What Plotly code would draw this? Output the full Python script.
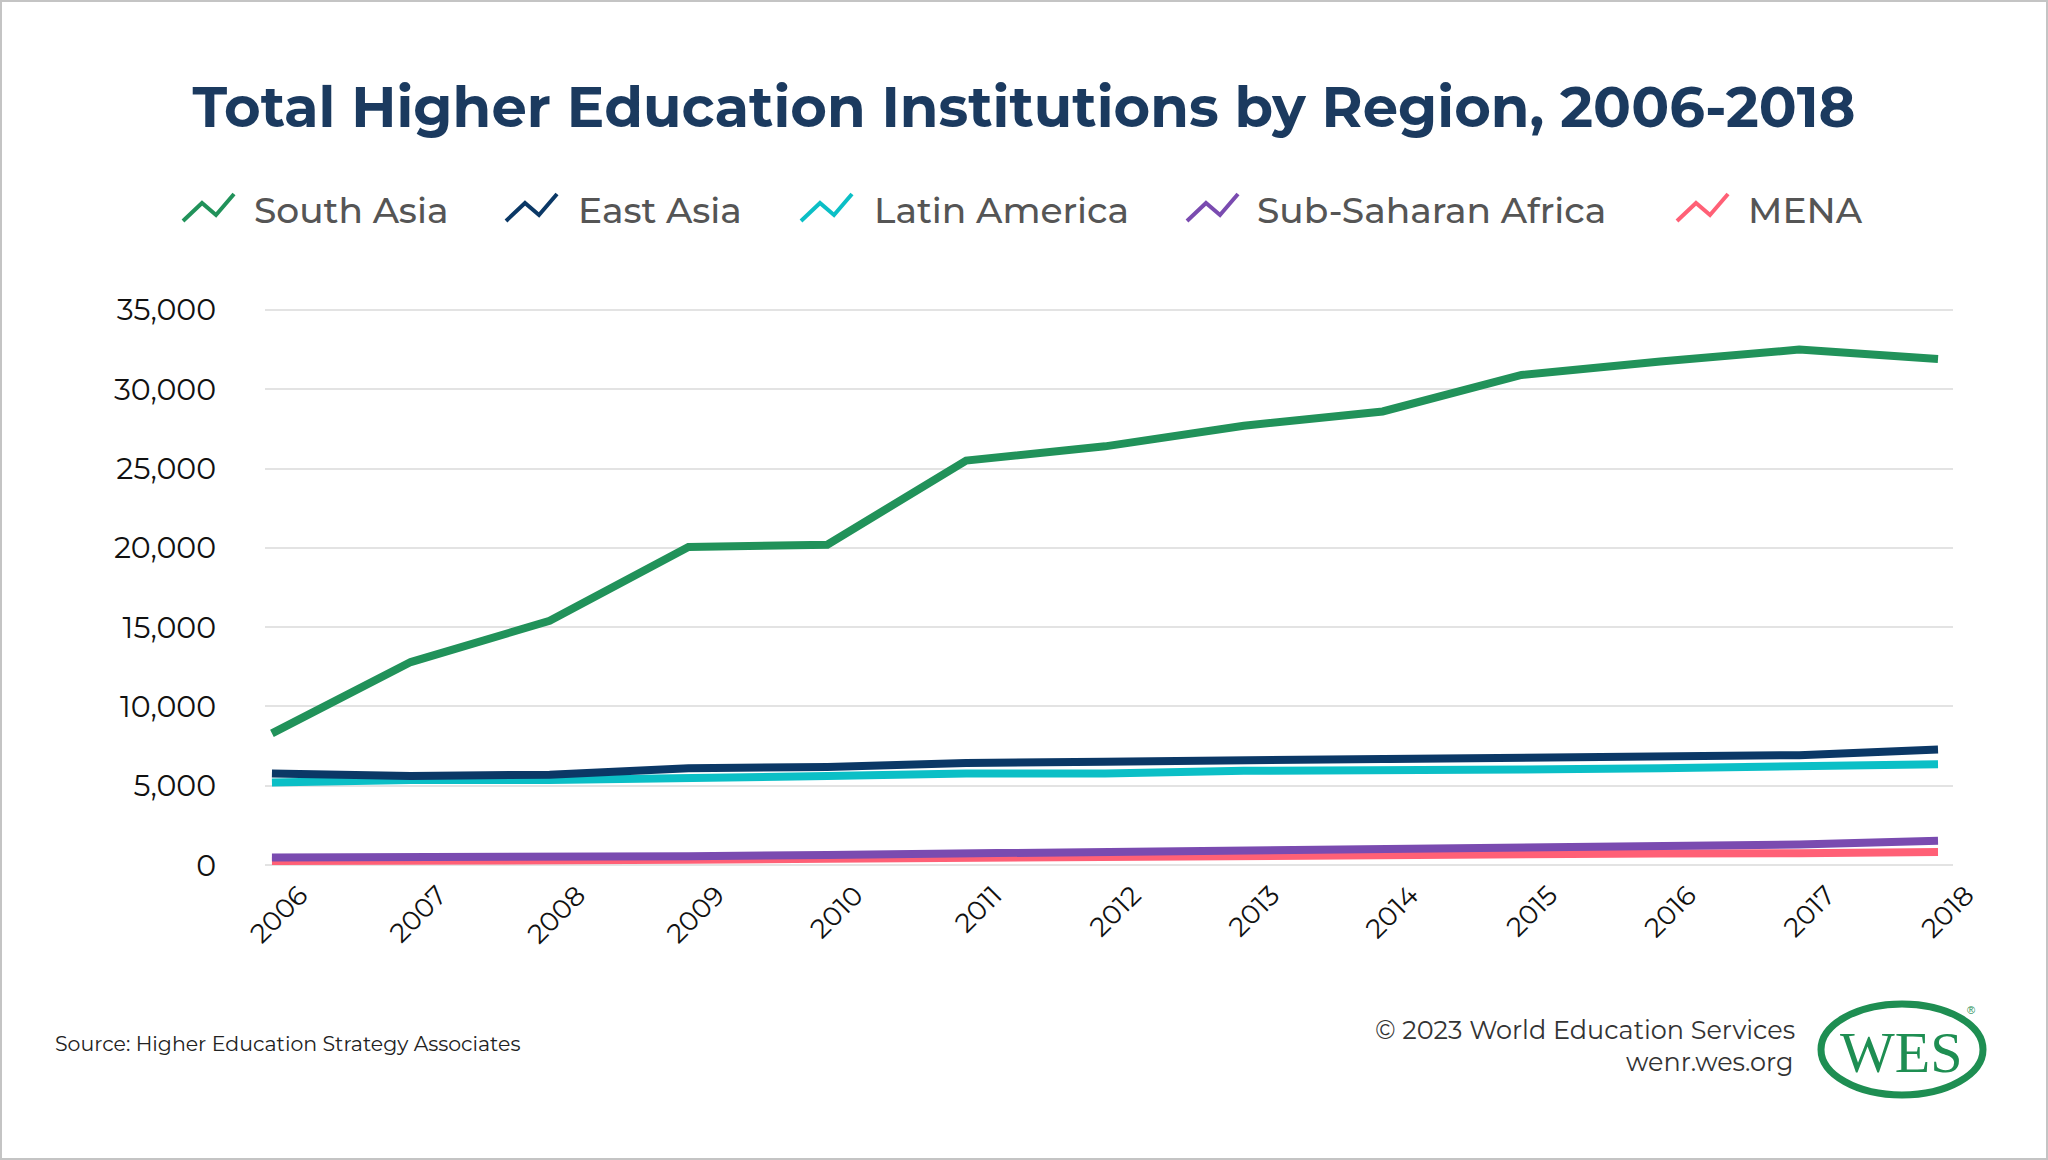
import plotly.graph_objects as go

# ---------------- data ----------------
years = [2006, 2007, 2008, 2009, 2010, 2011, 2012, 2013, 2014, 2015, 2016, 2017, 2018]
south_asia = [8300, 12800, 15400, 20050, 20200, 25500, 26400, 27700, 28600, 30900, 31750, 32500, 31900]
east_asia = [5780, 5620, 5700, 6100, 6190, 6440, 6520, 6600, 6770, 6770, 6850, 6930, 7280]
latin_america = [5200, 5360, 5370, 5450, 5610, 5780, 5780, 5940, 5940, 6030, 6110, 6190, 6360]
sub_saharan_africa = [480, 480, 500, 560, 640, 740, 840, 940, 1020, 1130, 1210, 1300, 1530]
mena = [250, 250, 270, 330, 400, 470, 540, 600, 650, 700, 730, 750, 820]

series_names = ["South Asia", "East Asia", "Latin America", "Sub-Saharan Africa", "MENA"]
series_values = [south_asia, east_asia, latin_america, sub_saharan_africa, mena]
series_colors = ["#21925a", "#0b3866", "#0bbfc6", "#7a4bb0", "#ff6076"]

y_ticks = [0, 5000, 10000, 15000, 20000, 25000, 30000, 35000]
y_tick_labels = ["0", "5,000", "10,000", "15,000", "20,000", "25,000", "30,000", "35,000"]
x_tick_labels = [str(y) for y in years]

title_text = "Total Higher Education Institutions by Region, 2006-2018"
source_text = "Source: Higher Education Strategy Associates"
copyright_text = "© 2023 World Education Services"
site_text = "wenr.wes.org"

# ---------------- layout helpers ----------------
W, H = 2048, 1160
L, R, T, B = 265, 95, 302, 287
PW, PH = W - L - R, H - T - B


def px(x):
    return (x - L) / PW


def py(y):
    return (H - B - y) / PH


FONT = "Montserrat, 'Open Sans', Lato, sans-serif"

fig = go.Figure()

# draw later-legend series first so South Asia sits on top
for name, vals, col in reversed(list(zip(series_names, series_values, series_colors))):
    fig.add_trace(go.Scatter(
        x=years, y=vals, name=name, mode="lines",
        line=dict(color=col, width=8),
        hoverinfo="x+y+name",
    ))

shapes = []
annotations = []

# custom legend with zigzag icons
legend_icon_x = [183, 506, 801, 1187, 1677]
legend_text_x = [252, 576, 872, 1255, 1746]
legend_y = 210
zig = [(0, 11), (19, -7), (33, 5), (51, -16)]
for name, col, ix, tx in zip(series_names, series_colors, legend_icon_x, legend_text_x):
    path = "M " + " L ".join(f"{px(ix + dx):.5f},{py(legend_y + dy):.5f}" for dx, dy in zig)
    shapes.append(dict(type="path", xref="paper", yref="paper", path=path,
                       line=dict(color=col, width=4)))
    annotations.append(dict(x=px(tx), y=py(legend_y), xref="paper", yref="paper",
                            text=name, showarrow=False, xanchor="left", yanchor="middle",
                            font=dict(family=FONT, size=36, color="#555555", weight=500)))

# footer texts
annotations.append(dict(x=px(53), y=py(1043), xref="paper", yref="paper", text=source_text,
                        showarrow=False, xanchor="left", yanchor="middle",
                        font=dict(family=FONT, size=20.5, color="#222222")))
annotations.append(dict(x=px(1797), y=py(1029), xref="paper", yref="paper", text=copyright_text,
                        showarrow=False, xanchor="right", yanchor="middle",
                        font=dict(family=FONT, size=25.5, color="#333333")))
annotations.append(dict(x=px(1795), y=py(1061), xref="paper", yref="paper", text=site_text,
                        showarrow=False, xanchor="right", yanchor="middle",
                        font=dict(family=FONT, size=25.5, color="#333333")))

# WES logo
logo_green = "#1e8e52"
shapes.append(dict(type="circle", xref="paper", yref="paper",
                   x0=px(1821), x1=px(1983), y0=py(1095), y1=py(1004),
                   line=dict(color=logo_green, width=7)))
annotations.append(dict(x=px(1901), y=py(1052), xref="paper", yref="paper", text="WES",
                        showarrow=False, xanchor="center", yanchor="middle",
                        font=dict(family="Liberation Serif, serif", size=58, color=logo_green)))
annotations.append(dict(x=px(1971), y=py(1010), xref="paper", yref="paper", text="®",
                        showarrow=False, xanchor="center", yanchor="middle",
                        font=dict(family="Liberation Sans, sans-serif", size=11, color=logo_green)))

# outer border
shapes.append(dict(type="rect", xref="paper", yref="paper",
                   x0=px(1), x1=px(W - 1), y0=py(H - 1), y1=py(1),
                   line=dict(color="#c4c4c4", width=2)))

fig.update_layout(
    width=W, height=H,
    margin=dict(l=L, r=R, t=T, b=B, pad=0),
    paper_bgcolor="white", plot_bgcolor="white",
    showlegend=False,
    title=dict(text=title_text, x=0.5, xref="container", xanchor="center",
               y=1 - 107 / H, yref="container", yanchor="middle",
               font=dict(family=FONT, size=56, color="#1b3a5f", weight="bold")),
    shapes=shapes,
    annotations=annotations,
    xaxis=dict(
        range=[2005.95, 2018.108],
        tickmode="array", tickvals=years, ticktext=x_tick_labels,
        tickangle=-45, showgrid=False, zeroline=False, showline=False,
        ticks="", ticklabelshift=28, ticklabelstandoff=0,
        tickfont=dict(family=FONT, size=27, color="#111111"),
    ),
    yaxis=dict(
        range=[-500, 35500],
        tickmode="array", tickvals=y_ticks, ticktext=y_tick_labels,
        showgrid=True, gridcolor="#e3e3e3", gridwidth=2,
        zeroline=False, showline=False, ticks="",
        ticklabelstandoff=48,
        tickfont=dict(family=FONT, size=30, color="#111111"),
    ),
)

fig.write_html("out.html")
